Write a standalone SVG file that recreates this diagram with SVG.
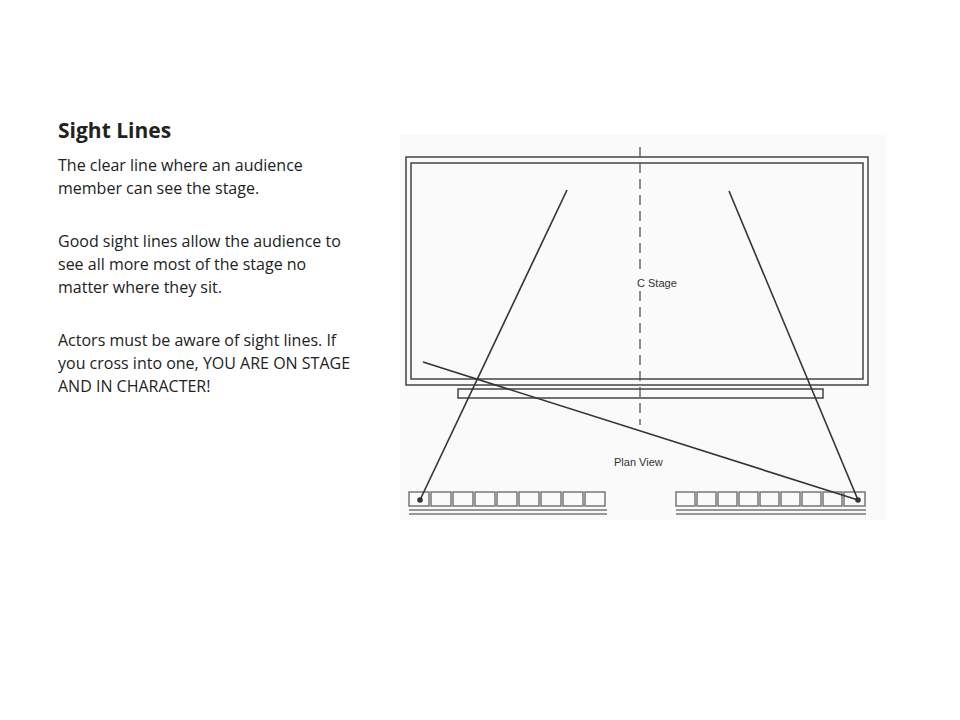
<svg xmlns="http://www.w3.org/2000/svg" width="960" height="720" viewBox="0 0 960 720">
<style>
.t{font-family:"Open Sans","Liberation Sans",sans-serif;fill:#222}
.b{font-size:16px}
.d{stroke:#444;fill:none;stroke-width:1.5}
.s{stroke:#777;fill:none;stroke-width:1.5}
.l{font-family:"Liberation Sans",sans-serif;font-size:11px;fill:#333}
</style>
<rect width="960" height="720" fill="#fff"/>
<text class="t" x="58" y="138" font-size="21" font-weight="bold">Sight Lines</text>
<g class="t b">
<text x="58" y="171">The clear line where an audience</text>
<text x="58" y="194">member can see the stage.</text>
<text x="58" y="247">Good sight lines allow the audience to</text>
<text x="58" y="270">see all more most of the stage no</text>
<text x="58" y="293">matter where they sit.</text>
<text x="58" y="346">Actors must be aware of sight lines.  If</text>
<text x="58" y="369">you cross into one, YOU ARE ON STAGE</text>
<text x="58" y="392">AND IN CHARACTER!</text>
</g>
<rect x="400" y="135" width="486" height="385" fill="#fafafa"/>
<g id="stage">
<rect class="d" x="406" y="157" width="462" height="228"/>
<rect class="d" x="411" y="163" width="452" height="216"/>
<rect class="d" x="458" y="389" width="365" height="9"/>
<line x1="640" y1="147" x2="640" y2="425" stroke="#555" stroke-width="1.3" stroke-dasharray="10,6"/>
<rect x="635" y="274" width="50" height="16" fill="#fafafa"/>
<text class="l" x="637" y="287">C Stage</text>
<text class="l" x="614" y="466">Plan View</text>
</g>
<g id="seats" class="s">
<path d="M409 492h20v14h-20z M431 492h20v14h-20z M453 492h20v14h-20z M475 492h20v14h-20z M497 492h20v14h-20z M519 492h20v14h-20z M541 492h20v14h-20z M563 492h20v14h-20z M585 492h20v14h-20z"/>
<path d="M409 510h198 M409 514h198"/>
<path d="M676 492h19v14h-19z M697 492h19v14h-19z M718 492h19v14h-19z M739 492h19v14h-19z M760 492h19v14h-19z M781 492h19v14h-19z M802 492h19v14h-19z M823 492h19v14h-19z M844 492h21v14h-21z"/>
<path d="M676 510h190 M676 514h190"/>
</g>
<g id="connectors" stroke="#333" stroke-width="1.6">
<line x1="567" y1="190" x2="420" y2="500"/>
<line x1="729" y1="191" x2="858" y2="500"/>
<line x1="423" y1="362" x2="858" y2="500"/>
<circle cx="420" cy="500" r="2" fill="#333"/>
<circle cx="858" cy="500" r="2" fill="#333"/>
</g>
</svg>
